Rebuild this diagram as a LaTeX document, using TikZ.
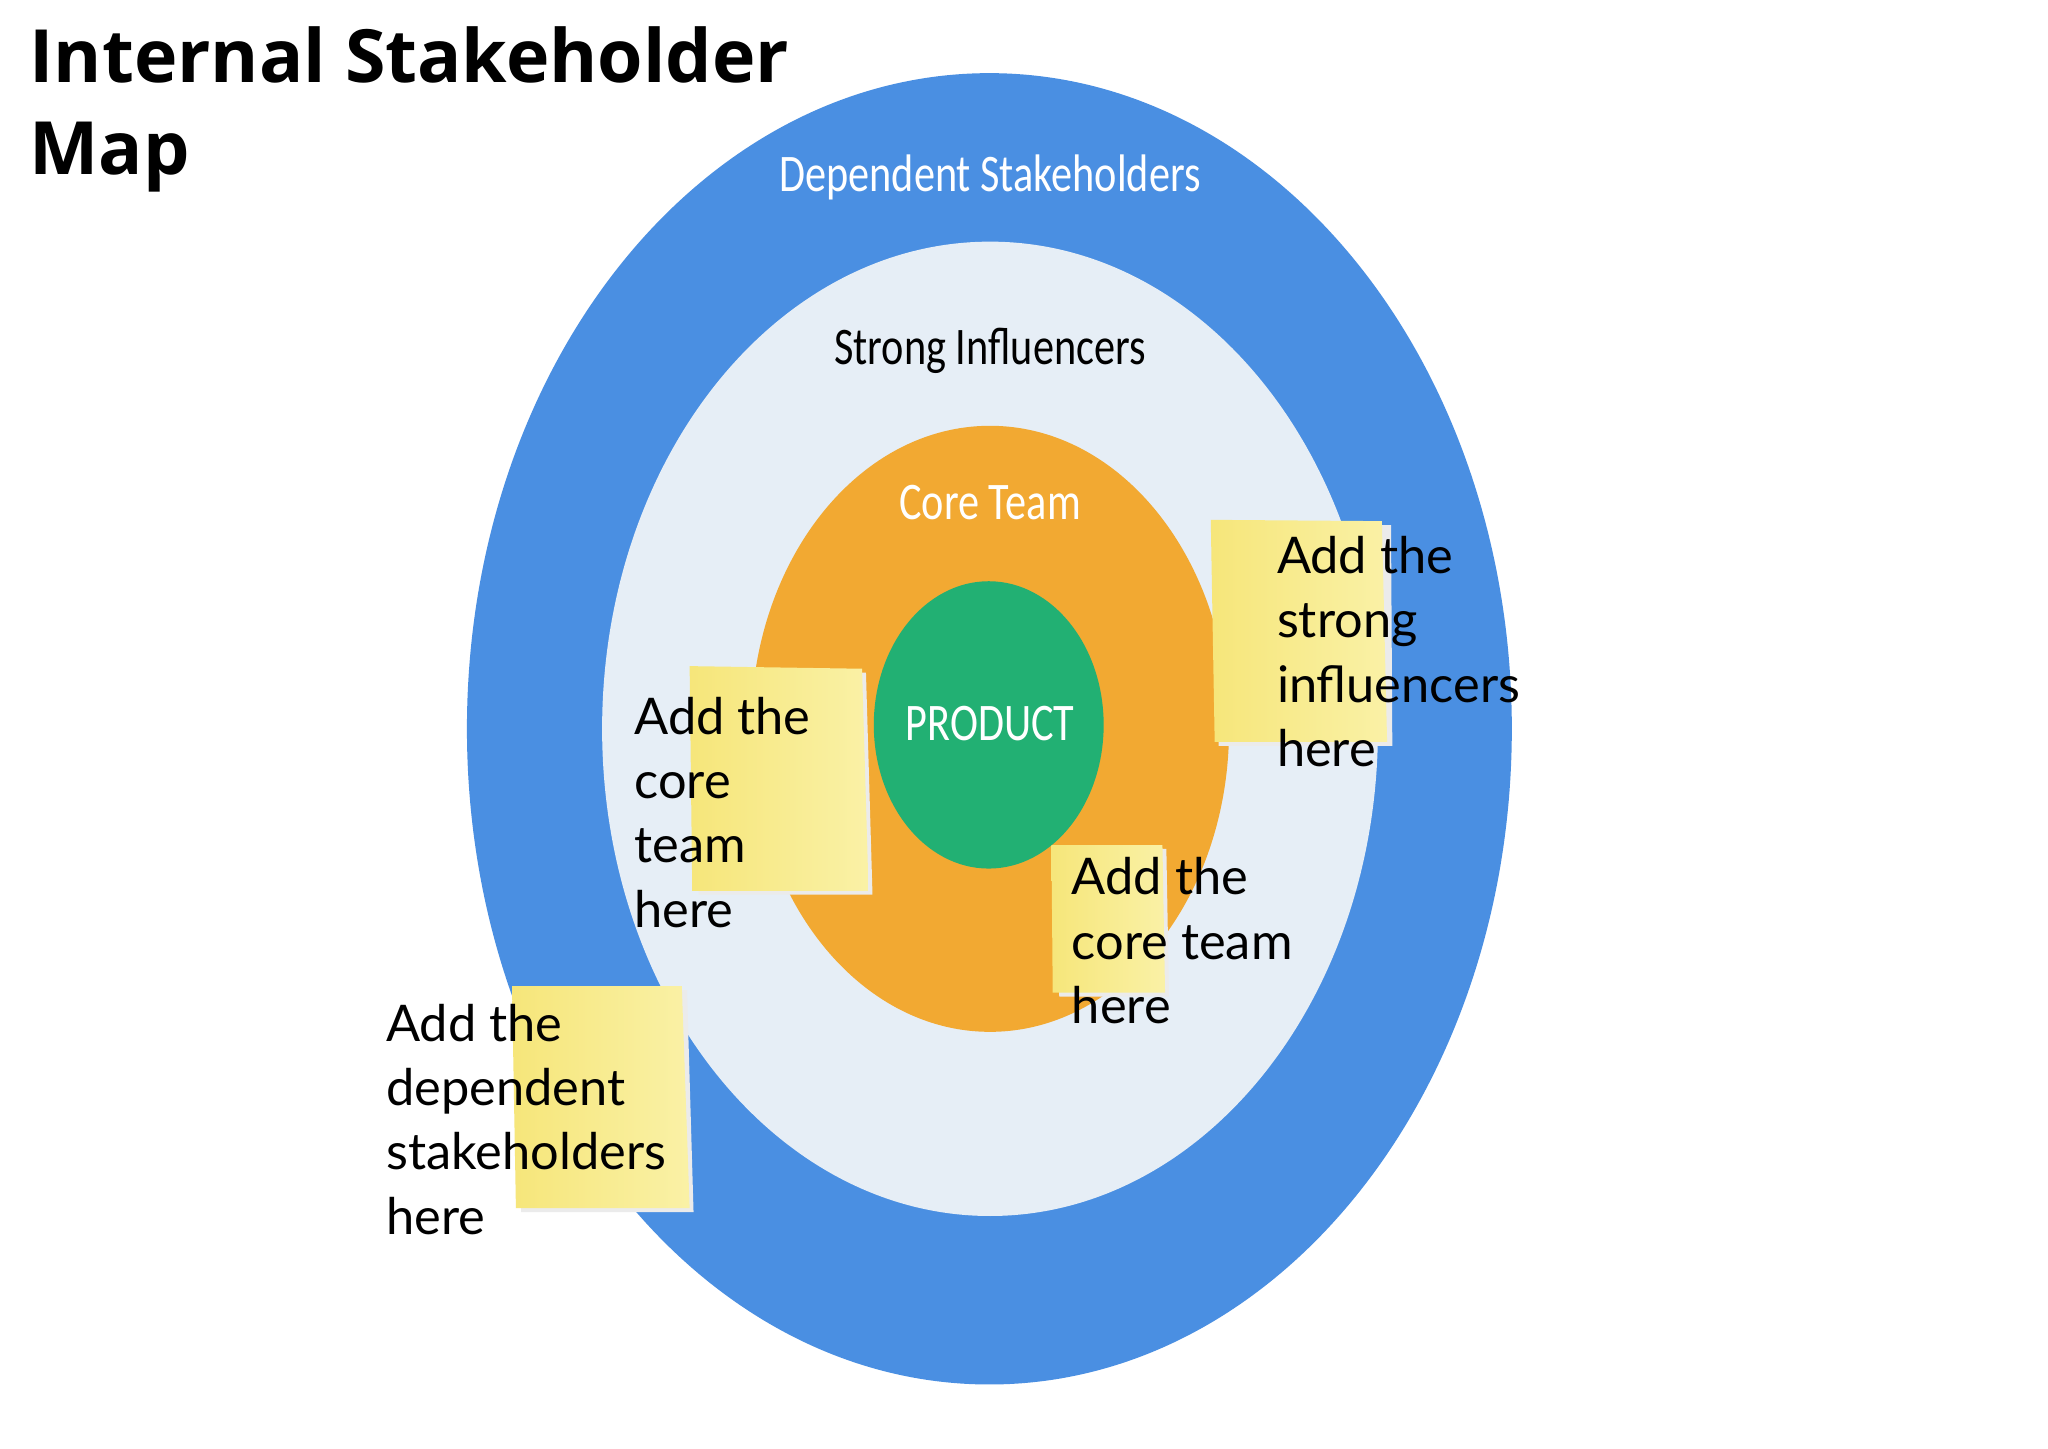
\documentclass[tikz,border=0pt]{standalone}
\usepackage{fontspec}
\usepackage{graphicx}
\setmainfont{Lato}
\newfontfamily\titlefont{Open Sans}
\newfontfamily\labfont{Carlito}
\definecolor{outerblue}{HTML}{4A8FE2}
\definecolor{lightblue}{HTML}{E6EEF6}
\definecolor{coreorange}{HTML}{F2A932}
\definecolor{prodgreen}{HTML}{22B073}
\definecolor{stickyA}{HTML}{F6E67A}
\definecolor{stickyB}{HTML}{FAF1A6}
\tikzset{
  sticky/.style={left color=stickyA, right color=stickyB, draw=none},
  notetext/.style={anchor=north west, align=left, font=\fontsize{11}{14}\selectfont, inner sep=0pt},
  ringlabel/.style={font=\labfont\fontsize{11.5}{13}\selectfont}
}
\begin{document}
\begin{tikzpicture}[x=0.01cm,y=-0.01cm]
\useasboundingbox (0,0) rectangle (1568,1109);
\fill[white] (0,0) rectangle (1568,1109);
\fill[outerblue] (757.5,558) ellipse [x radius=400, y radius=502];
\fill[lightblue] (758,558) ellipse [x radius=297, y radius=373];
\fill[coreorange] (758,558) ellipse [x radius=183, y radius=232];
\fill[prodgreen] (757,555) ellipse [x radius=88, y radius=110];
\node[ringlabel, text=white] (ds) at (758,136) {\scalebox{0.8}[1]{Dependent Stakeholders}};
\node[ringlabel, text=black] (si) at (758,269) {\scalebox{0.8}[1]{Strong Influencers}};
\node[ringlabel, text=white] (ct) at (758,385) {\scalebox{0.8}[1]{Core Team}};
\node[ringlabel, text=white] (pl) at (758,554) {\scalebox{0.8}[1]{PRODUCT}};
% sticky notes
\fill[black!8] (931,402) -- (1065,402) -- (1066,571) -- (933,571) -- cycle;
\shade[sticky] (927,398) -- (1058,399) -- (1062,568) -- (930,568) -- cycle;
\fill[black!8] (532,514) -- (663,515) -- (668,685) -- (535,685) -- cycle;
\shade[sticky] (528,510) -- (660,512) -- (665,682) -- (530,682) -- cycle;
\fill[black!8] (809,650) -- (893,650) -- (895,763) -- (811,763) -- cycle;
\shade[sticky] (805,647) -- (890,647) -- (892,760) -- (806,760) -- cycle;
\fill[black!8] (396,758) -- (526,758) -- (531,928) -- (399,928) -- cycle;
\shade[sticky] (392,755) -- (522,755) -- (528,925) -- (395,925) -- cycle;
\node[notetext] (n1) at (977,410) {Add the\\strong\\influencers\\here};
\node[notetext] (n2) at (485,533) {Add the\\core\\team\\here};
\node[notetext] (n3) at (820,656) {Add the\\core team\\here};
\node[notetext] (n4) at (295,768) {Add the\\dependent\\stakeholders\\here};
\node[anchor=north west, align=left, inner sep=0pt, font=\titlefont\bfseries\fontsize{16}{20}\selectfont] (title) at (22,20) {Internal Stakeholder\\Map};
\end{tikzpicture}
\end{document}
